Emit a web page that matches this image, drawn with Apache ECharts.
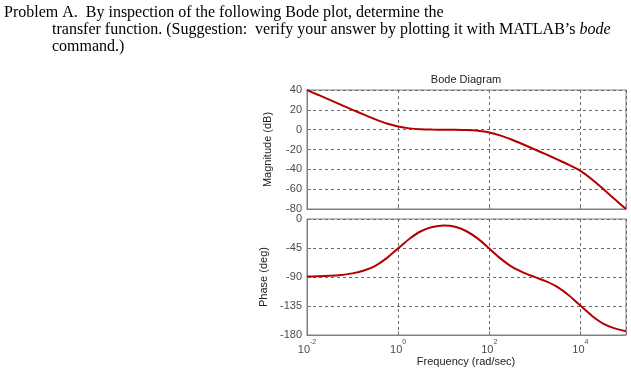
<!DOCTYPE html>
<html><head><meta charset="utf-8">
<script src="https://cdn.jsdelivr.net/npm/echarts@6/dist/echarts.min.js"></script>
<style>html,body{margin:0;padding:0;background:#fff}#c{width:631px;height:374px}</style>
</head><body><div id="c"></div>
<script>
// frequency samples (rad/sec)
const freq = [0.01, 0.0178, 0.0316, 0.0562, 0.1, 0.178, 0.316, 0.562, 1, 1.78, 3.16, 5.62, 10, 17.8, 31.6, 56.2, 100, 178, 316, 562, 1000, 1778, 3162, 5623, 10000, 17783, 31623, 56234, 100000];
// magnitude (dB)
const magnitudeDb = [40, 35, 30, 25, 20, 15.1, 10.4, 6.2, 3.2, 1.3, 0.4, 0.1, 0, -0.1, -0.4, -1.2, -2.8, -6.0, -10.2, -15.0, -20.0, -25.0, -30.2, -35.6, -41.5, -50.0, -59.8, -70.0, -80.0];
// phase (deg)
const phaseDeg = [-89.4, -89.0, -88.2, -86.8, -84.4, -80.0, -72.6, -60.7, -45.6, -30.6, -19.0, -12.5, -10.0, -12.0, -19.0, -30.5, -45.8, -61.5, -74.4, -83.2, -90.1, -96.9, -105.7, -118.6, -134.4, -150.0, -162.3, -169.8, -174.2];
// tick labels
const magTicks = [-80, -60, -40, -20, 0, 20, 40];
const phaseTicks = [-180, -135, -90, -45, 0];
const freqTickExps = [-2, 0, 2, 4];

const magData = freq.map((f, i) => [f, magnitudeDb[i]]);
const phaseData = freq.map((f, i) => [f, phaseDeg[i]]);

const FONT = 'Liberation Sans, Arial, sans-serif';
const SERIF = '"Liberation Serif", "Times New Roman", serif';
const gridLine = { show: true, lineStyle: { color: '#6a6a6a', type: [3, 3], width: 1 } };
const tickStyle = { show: true, inside: true, length: 4, lineStyle: { color: '#7a7a7a' } };
const lblColor = '#4a4a4a';

function xAxisDef(gridIndex, showLabels) {
  return {
    type: 'log', logBase: 10, gridIndex,
    min: Math.pow(10, freqTickExps[0]), max: 1e5, interval: 2,
    axisLine: { show: true, onZero: false, lineStyle: { color: '#808080' } },
    axisTick: tickStyle,
    splitLine: gridLine,
    axisLabel: {
      show: showLabels, color: lblColor, fontFamily: FONT, fontSize: 11, margin: 4,
      formatter: function (v) {
        const e = Math.round(Math.log10(v));
        if (freqTickExps.indexOf(e) < 0) return '';
        return '{b|10}{s|' + e + '}';
      },
      rich: {
        b: { fontSize: 11, fontFamily: FONT, color: lblColor, verticalAlign: 'bottom', lineHeight: 16 },
        s: { fontSize: 7, fontFamily: FONT, color: lblColor, verticalAlign: 'top', lineHeight: 16 }
      }
    }
  };
}

const option = {
  animation: false,
  backgroundColor: '#ffffff',
  grid: [
    { left: 307, top: 90, width: 319, height: 119, show: true, borderColor: '#808080', borderWidth: 1, backgroundColor: '#fff' },
    { left: 307, top: 219, width: 319, height: 116, show: true, borderColor: '#808080', borderWidth: 1, backgroundColor: '#fff' }
  ],
  xAxis: [xAxisDef(0, false), xAxisDef(1, true)],
  yAxis: [
    {
      type: 'value', gridIndex: 0, min: magTicks[0], max: magTicks[magTicks.length - 1], interval: 20,
      name: 'Magnitude (dB)', nameLocation: 'middle', nameGap: 34,
      nameTextStyle: { color: '#222', fontFamily: FONT, fontSize: 11 },
      axisLine: { show: true, onZero: false, lineStyle: { color: '#808080' } },
      axisTick: tickStyle, splitLine: gridLine,
      axisLabel: { color: lblColor, fontFamily: FONT, fontSize: 11, margin: 5 }
    },
    {
      type: 'value', gridIndex: 1, min: phaseTicks[0], max: phaseTicks[phaseTicks.length - 1], interval: 45,
      name: 'Phase (deg)', nameLocation: 'middle', nameGap: 34,
      nameTextStyle: { color: '#222', fontFamily: FONT, fontSize: 11 },
      axisLine: { show: true, onZero: false, lineStyle: { color: '#808080' } },
      axisTick: tickStyle, splitLine: gridLine,
      axisLabel: { color: lblColor, fontFamily: FONT, fontSize: 11, margin: 5 }
    }
  ],
  series: [
    { type: 'line', xAxisIndex: 0, yAxisIndex: 0, data: magData, smooth: 0.3, showSymbol: false,
      lineStyle: { color: '#b40000', width: 2 } },
    { type: 'line', xAxisIndex: 1, yAxisIndex: 1, data: phaseData, smooth: 0.3, showSymbol: false,
      lineStyle: { color: '#b40000', width: 2 } }
  ],
  graphic: [
    { type: 'text', left: 4, top: 5, style: { text: 'Problem A.  By inspection of the following Bode plot, determine the', font: '16px ' + SERIF, fill: '#000' } },
    { type: 'text', left: 52, top: 22, style: {
        text: '{n|transfer function. (Suggestion:  verify your answer by plotting it with MATLAB\u2019s }{i|bode}',
        rich: {
          n: { font: '16px ' + SERIF, fill: '#000' },
          i: { font: 'italic 16px ' + SERIF, fill: '#000' }
        } } },
    { type: 'text', left: 52, top: 39, style: { text: 'command.)', font: '16px ' + SERIF, fill: '#000' } },
    { type: 'text', x: 466, y: 80, style: { text: 'Bode Diagram', font: '11px ' + FONT, fill: '#222', align: 'center', verticalAlign: 'middle' } },
    { type: 'text', x: 466, y: 362, style: { text: 'Frequency (rad/sec)', font: '11px ' + FONT, fill: '#222', align: 'center', verticalAlign: 'middle' } }
  ]
};

const chart = echarts.init(document.getElementById('c'));
chart.setOption(option);
</script>
</body></html>
